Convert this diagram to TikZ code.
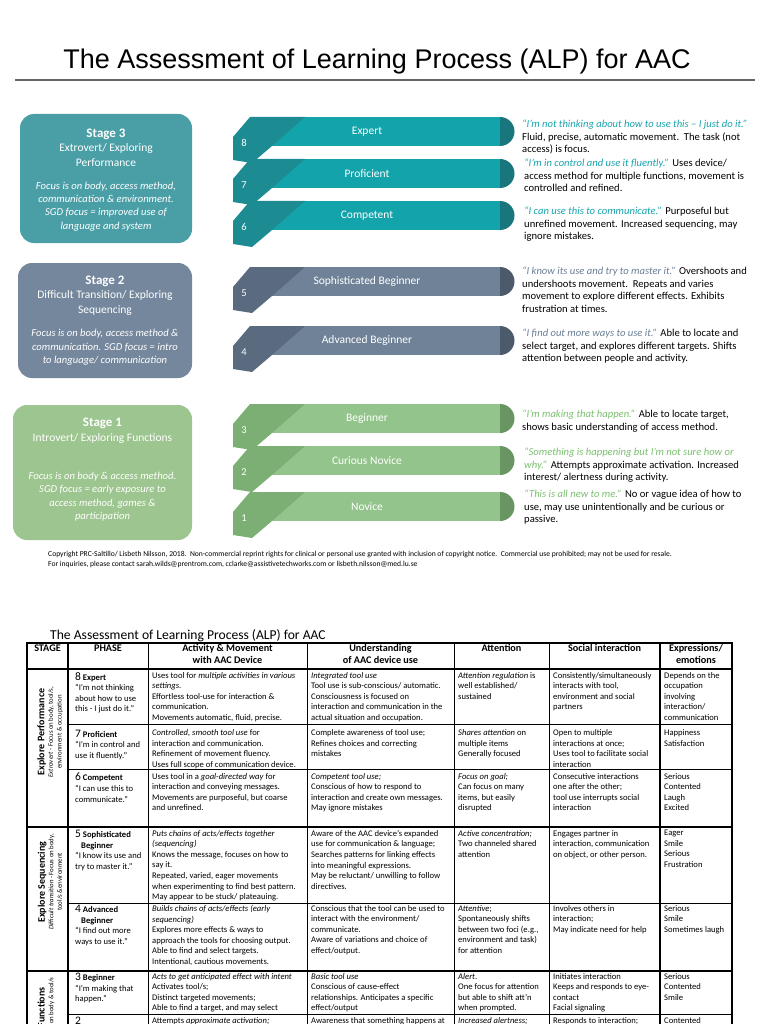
\documentclass[tikz,border=0pt]{standalone}
\usepackage{fontspec}
\setmainfont{Carlito}
\newfontfamily\titlefont{Liberation Sans}
\usetikzlibrary{positioning}
\definecolor{tealbox}{HTML}{4A9FA7}
\definecolor{tealband}{HTML}{13A3AA}
\definecolor{tealtab}{HTML}{1D8B92}
\definecolor{tealtext}{HTML}{18A4AE}
\definecolor{slatebox}{HTML}{74879C}
\definecolor{slateband}{HTML}{6F8297}
\definecolor{slatetab}{HTML}{5A6B7F}
\definecolor{slatetext}{HTML}{6A7E96}
\definecolor{greenbox}{HTML}{9DC58F}
\definecolor{greenband}{HTML}{93C48B}
\definecolor{greentab}{HTML}{7CAF74}
\definecolor{greentext}{HTML}{7BC06F}

% one phase ribbon: top y, number, label, band colour, tab colour
\newcommand{\ribbon}[5]{%
  \fill[#4] (272,#1) rectangle (500,#1+29);
  \fill[#5!85!black] (500,#1) arc[start angle=-90,end angle=90,radius=14.5] -- cycle;
  \fill[#5] (233,#1+20) -- (250,#1) -- (305,#1) -- (272,#1+29) -- (252,#1+46) -- (233,#1+43) -- cycle;
  \node[ribnum] (num#2) at (244,#1+26) {#2};
  \node[riblabel] (rib#2) at (367,#1+14.5) {#3};
}
% one table row: name, text top, then the six cells
\newcommand{\tabrow}[8]{%
  \node[cell] (#1phase) at (75,#2) {#3};
  \node[cell] (#1act) at (152,#2) {#4};
  \node[cell] (#1und) at (311,#2) {#5};
  \node[cell] (#1att) at (458,#2) {#6};
  \node[cell] (#1soc) at (553,#2) {#7};
  \node[cell] (#1exp) at (664,#2) {#8};
}
\newcommand{\phnum}[2]{{\fontsize{11.5}{10.6}\selectfont #1} \textbf{#2}}

\begin{document}
\begin{tikzpicture}[x=1pt, y=-1pt,
  stagebox/.style={rounded corners=14pt, inner sep=0pt},
  stagehead/.style={text=white, align=center, inner sep=0pt, font=\fontsize{11.5}{14.5}\selectfont},
  stagefocus/.style={text=white, align=center, inner sep=0pt, font=\itshape\fontsize{10.6}{13.4}\selectfont},
  ribnum/.style={text=white, inner sep=0pt, font=\fontsize{10.5}{12}\selectfont},
  riblabel/.style={text=white, inner sep=0pt, font=\fontsize{11.5}{13}\selectfont},
  desc/.style={anchor=north west, align=left, inner sep=0pt, font=\fontsize{10.6}{12.7}\selectfont},
  cell/.style={anchor=north west, align=left, inner sep=0pt, font=\fontsize{8.6}{10.6}\selectfont},
  headcell/.style={anchor=north, align=center, inner sep=0pt, font=\bfseries\fontsize{10.2}{12}\selectfont},
  stagelab/.style={rotate=90, align=center, inner sep=0pt, font=\fontsize{6.8}{8.6}\selectfont},
  thickrule/.style={line width=1.6pt},
  midrule/.style={line width=1.1pt},
  thinrule/.style={line width=0.6pt}
]
\fill[white] (0,0) rectangle (768,1024);
\useasboundingbox (0,0) rectangle (768,1024);

% title
\node[font=\titlefont\fontsize{27}{32}\selectfont, inner sep=0pt] (title) at (377,62) {The Assessment of Learning Process (ALP) for AAC};
\draw[black!60, line width=2pt] (15,80) -- (755,80);

% stage boxes
\node[stagebox, fill=tealbox, minimum width=172, minimum height=129] (stage3) at (106,178.5) {};
\node[stagehead] (stage3head) at (106,147.5) {{\bfseries\fontsize{13}{14.5}\selectfont Stage 3}\\ Extrovert/ Exploring\\ Performance};
\node[stagefocus] (stage3focus) at (106,206.5) {Focus is on body, access method,\\ communication \& environment.\\ SGD focus = improved use of\\ language and system};

\node[stagebox, fill=slatebox, minimum width=174, minimum height=115] (stage2) at (105,320.5) {};
\node[stagehead] (stage2head) at (105,295.5) {{\bfseries\fontsize{13}{14.5}\selectfont Stage 2}\\ Difficult Transition/ Exploring\\ Sequencing};
\node[stagefocus] (stage2focus) at (105,347.5) {Focus is on body, access method \&\\ communication. SGD focus = intro\\ to language/ communication};

\node[stagebox, fill=greenbox, minimum width=179, minimum height=135] (stage1) at (102.5,472.5) {};
\node[stagehead] (stage1head) at (102.5,430.5) {{\bfseries\fontsize{13}{14.5}\selectfont Stage 1}\\ Introvert/ Exploring Functions};
\node[stagefocus] (stage1focus) at (102.5,496.5) {Focus is on body \& access method.\\ SGD focus = early exposure to\\ access method, games \&\\ participation};

% ribbons
\ribbon{117}{8}{Expert}{tealband}{tealtab}
\ribbon{159}{7}{Proficient}{tealband}{tealtab}
\ribbon{201}{6}{Competent}{tealband}{tealtab}
\ribbon{267}{5}{Sophisticated Beginner}{slateband}{slatetab}
\ribbon{326}{4}{Advanced Beginner}{slateband}{slatetab}
\ribbon{404}{3}{Beginner}{greenband}{greentab}
\ribbon{446}{2}{Curious Novice}{greenband}{greentab}
\ribbon{492}{1}{Novice}{greenband}{greentab}

% descriptions
\node[desc] (desc8) at (522,119.5) {{\color{tealtext}\itshape “I’m not thinking about how to use this – I just do it.”}\\ Fluid, precise, automatic movement.\ \ The task (not\\ access) is focus.};
\node[desc] (desc7) at (524,158.5) {{\color{tealtext}\itshape “I’m in control and use it fluently.”} Uses device/\\ access method for multiple functions, movement is\\ controlled and refined.};
\node[desc] (desc6) at (524,206.5) {{\color{tealtext}\itshape “I can use this to communicate.”} Purposeful but\\ unrefined movement. Increased sequencing, may\\ ignore mistakes.};
\node[desc] (desc5) at (522,266.5) {{\color{slatetext}\itshape “I know its use and try to master it.”} Overshoots and\\ undershoots movement.\ \ Repeats and varies\\ movement to explore different effects. Exhibits\\ frustration at times.};
\node[desc] (desc4) at (522,328.5) {{\color{slatetext}\itshape “I find out more ways to use it.”} Able to locate and\\ select target, and explores different targets. Shifts\\ attention between people and activity.};
\node[desc] (desc3) at (522,409.5) {{\color{greentext}\itshape “I’m making that happen.”} Able to locate target,\\ shows basic understanding of access method.};
\node[desc] (desc2) at (524,447.5) {{\color{greentext}\itshape “Something is happening but I’m not sure how or}\\ {\color{greentext}\itshape why.”} Attempts approximate activation. Increased\\ interest/ alertness during activity.};
\node[desc] (desc1) at (524,489.5) {{\color{greentext}\itshape “This is all new to me.”} No or vague idea of how to\\ use, may use unintentionally and be curious or\\ passive.};

% copyright
\node[anchor=north west, align=left, inner sep=0pt, font=\fontsize{7.6}{10}\selectfont] (copy) at (48,551) {Copyright PRC-Saltillo/ Lisbeth Nilsson, 2018.\ \ Non-commercial reprint rights for clinical or personal use granted with inclusion of copyright notice.\ \ Commercial use prohibited; may not be used for resale.\\ For inquiries, please contact sarah.wilds@prentrom.com, cclarke@assistivetechworks.com or lisbeth.nilsson@med.lu.se};

% table
\node[anchor=base west, inner sep=0pt, font=\fontsize{13.6}{16}\selectfont] (tabtitle) at (50,639.5) {The Assessment of Learning Process (ALP) for AAC};
\node[headcell] (hstage) at (47.5,644.5) {STAGE};
\node[headcell] (hphase) at (108,644.5) {PHASE};
\node[headcell] (hact) at (227.5,644.5) {Activity \& Movement\\ with AAC Device};
\node[headcell] (hund) at (380.5,644.5) {Understanding\\ of AAC device use};
\node[headcell] (hatt) at (501.5,644.5) {Attention};
\node[headcell] (hsoc) at (604.5,644.5) {Social interaction};
\node[headcell] (hexp) at (696,644.5) {Expressions/\\ emotions};

\node[stagelab] (stg3) at (50,732) {{\bfseries\fontsize{10}{11}\selectfont Explore Performance}\\ \textit{Extrovert} - Focus on body, tool/s,\\ environment \& occupation};
\node[stagelab] (stg2) at (50,882) {{\bfseries\fontsize{10}{11}\selectfont Explore Sequencing}\\ \textit{Difficult transition} - Focus on body,\\ tool/s \&environment};
\node[stagelab] (stg1) at (46,1024) {{\bfseries\fontsize{10}{11}\selectfont Explore Functions}\\ \textit{Introvert} - Focus on body \& tool/s};

\tabrow{r8}{672}{\phnum{8}{Expert}\\ “I’m not thinking\\ about how to use\\ this - I just do it.”}
  {Uses tool for \textit{multiple activities in various}\\ \textit{settings}.\\ Effortless tool-use for interaction \&\\ communication.\\ Movements automatic, fluid, precise.}
  {\textit{Integrated tool use}\\ Tool use is sub-conscious/ automatic.\\ Consciousness is focused on\\ interaction and communication in the\\ actual situation and occupation.}
  {\textit{Attention regulation} is\\ well established/\\ sustained}
  {Consistently/simultaneously\\ interacts with tool,\\ environment and social\\ partners}
  {Depends on the\\ occupation\\ involving\\ interaction/\\ communication}
\tabrow{r7}{729.5}{\phnum{7}{Proficient}\\ “I’m in control and\\ use it fluently.”}
  {\textit{Controlled, smooth tool use} for\\ interaction and communication.\\ Refinement of movement fluency.\\ Uses full scope of communication device.}
  {Complete awareness of tool use;\\ Refines choices and correcting\\ mistakes}
  {\textit{Shares attention} on\\ multiple items\\ Generally focused}
  {Open to multiple\\ interactions at once;\\ Uses tool to facilitate social\\ interaction}
  {Happiness\\ Satisfaction}
\tabrow{r6}{773}{\phnum{6}{Competent}\\ “I can use this to\\ communicate.”}
  {Uses tool in a \textit{goal-directed way} for\\ interaction and conveying messages.\\ Movements are purposeful, but coarse\\ and unrefined.}
  {\textit{Competent tool use;}\\ Conscious of how to respond to\\ interaction and create own messages.\\ May ignore mistakes}
  {\textit{Focus on goal;}\\ Can focus on many\\ items, but easily\\ disrupted}
  {Consecutive interactions\\ one after the other;\\ tool use interrupts social\\ interaction}
  {Serious\\ Contented\\ Laugh\\ Excited}
\tabrow{r5}{830}{\phnum{5}{Sophisticated}\\ \hspace*{6pt}\textbf{Beginner}\\ “I know its use and\\ try to master it.”}
  {\textit{Puts chains of acts/effects together}\\ \textit{(sequencing)}\\ Knows the message, focuses on how to\\ say it.\\ Repeated, varied, eager movements\\ when experimenting to find best pattern.\\ May appear to be stuck/ plateauing.}
  {Aware of the AAC device’s expanded\\ use for communication \& language;\\ Searches patterns for linking effects\\ into meaningful expressions.\\ May be reluctant/ unwilling to follow\\ directives.}
  {\textit{Active concentration;}\\ Two channeled shared\\ attention}
  {Engages partner in\\ interaction, communication\\ on object, or other person.}
  {Eager\\ Smile\\ Serious\\ Frustration}
\tabrow{r4}{905}{\phnum{4}{Advanced}\\ \hspace*{6pt}\textbf{Beginner}\\ “I find out more\\ ways to use it.”}
  {\textit{Builds chains of acts/effects (early}\\ \textit{sequencing)}\\ Explores more effects \& ways to\\ approach the tools for choosing output.\\ Able to find and select targets.\\ Intentional, cautious movements.}
  {Conscious that the tool can be used to\\ interact with the environment/\\ communicate.\\ Aware of variations and choice of\\ effect/output.}
  {\textit{Attentive};\\ Spontaneously shifts\\ between two foci (e.g.,\\ environment and task)\\ for attention}
  {Involves others in\\ interaction;\\ May indicate need for help}
  {Serious\\ Smile\\ Sometimes laugh}
\tabrow{r3}{973}{\phnum{3}{Beginner}\\ “I’m making that\\ happen.”}
  {\textit{Acts to get anticipated effect with intent}\\ Activates tool/s;\\ Distinct targeted movements;\\ Able to find a target, and may select}
  {\textit{Basic tool use}\\ Conscious of cause-effect\\ relationships. Anticipates a specific\\ effect/output}
  {\textit{Alert}.\\ One focus for attention\\ but able to shift att’n\\ when prompted.}
  {Initiates interaction\\ Keeps and responds to eye-\\ contact\\ Facial signaling}
  {Serious\\ Contented\\ Smile}
\tabrow{r2}{1017}{\phnum{2}{}}
  {Attempts \textit{approximate activation;}}
  {Awareness that something happens at}
  {\textit{Increased alertness;}}
  {Responds to interaction;}
  {Contented}

% rules
\draw[thickrule] (27,1030) -- (27,643) -- (732,643) -- (732,1030);
\draw[midrule] (27,669) -- (732,669);
\foreach \x in {148,307,454,549} \draw[thinrule] (\x,643) -- (\x,1030);
\foreach \x in {68,660} \draw[midrule] (\x,643) -- (\x,1030);
\foreach \y in {724,769,903,1014} \draw[thinrule] (68,\y) -- (732,\y);
\foreach \y in {827,971} \draw[thickrule] (27,\y) -- (732,\y);
\end{tikzpicture}
\end{document}
